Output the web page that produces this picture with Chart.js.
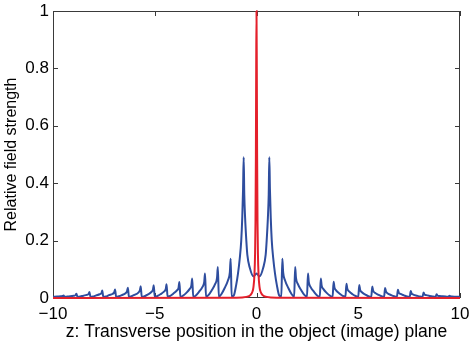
<!DOCTYPE html>
<html>
<head>
<meta charset="utf-8">
<script src="https://cdn.jsdelivr.net/npm/chart.js@4"></script>
<style>
  html, body { margin: 0; padding: 0; background: #fff; }
  #chart { display: block; }
</style>
</head>
<body>
<canvas id="chart" width="474" height="344"></canvas>
<script>
// Axis ticks
const xTicks = [-10, -5, 0, 5, 10];
const yTicks = [0, 0.2, 0.4, 0.6, 0.8, 1];

// Blue curve (periodic spikes)
const blueX = [
  -10, -9.80, -9.61, -9.52, -9.48, -9.43,
  -9.30, -9.15, -8.98, -8.89, -8.85, -8.80,
  -8.66, -8.51, -8.34, -8.25, -8.21, -8.16,
  -8.03, -7.88, -7.71, -7.62, -7.58, -7.53,
  -7.40, -7.25, -7.08, -6.99, -6.95, -6.90,
  -6.77, -6.62, -6.45, -6.36, -6.32, -6.27,
  -6.14, -5.99, -5.82, -5.73, -5.69, -5.64,
  -5.50, -5.35, -5.18, -5.09, -5.05, -5.00,
  -4.87, -4.72, -4.55, -4.46, -4.42, -4.37,
  -4.24, -4.09, -3.92, -3.83, -3.79, -3.74,
  -3.61, -3.46, -3.29, -3.20, -3.16, -3.11,
  -2.98, -2.83, -2.66, -2.57, -2.53, -2.48,
  -2.35, -2.20, -2.03, -1.94, -1.90, -1.85,
  -1.72, -1.57, -1.40, -1.31, -1.27, -1.22,
  -1.12, -1.00, -0.91, -0.82, -0.75, -0.70, -0.66, -0.63,
  -0.60, -0.56, -0.50, -0.45, -0.33, -0.15, 0,
  0.15, 0.33, 0.45, 0.50, 0.56, 0.60, 0.63,
  0.66, 0.70, 0.75, 0.82, 0.91, 1.00, 1.12, 1.22,
  1.27, 1.31, 1.40, 1.57, 1.72, 1.85,
  1.90, 1.94, 2.03, 2.20, 2.35, 2.48,
  2.53, 2.57, 2.66, 2.83, 2.98, 3.11,
  3.16, 3.20, 3.29, 3.46, 3.61, 3.74,
  3.79, 3.83, 3.92, 4.09, 4.24, 4.37,
  4.42, 4.46, 4.55, 4.72, 4.87, 5.00,
  5.05, 5.09, 5.18, 5.35, 5.50, 5.64,
  5.69, 5.73, 5.82, 5.99, 6.14, 6.27,
  6.32, 6.36, 6.45, 6.62, 6.77, 6.90,
  6.95, 6.99, 7.08, 7.25, 7.40, 7.53,
  7.58, 7.62, 7.71, 7.88, 8.03, 8.16,
  8.21, 8.25, 8.34, 8.51, 8.66, 8.80,
  8.85, 8.89, 8.98, 9.15, 9.30, 9.43,
  9.48, 9.52, 9.61, 9.80, 10
];
const blueY = [
  0.004, 0.005, 0.006, 0.007, 0.009, 0.004,
  0.005, 0.006, 0.008, 0.010, 0.015, 0.004,
  0.005, 0.008, 0.011, 0.014, 0.021, 0.004,
  0.005, 0.009, 0.013, 0.017, 0.026, 0.004,
  0.005, 0.010, 0.014, 0.020, 0.030, 0.004,
  0.006, 0.010, 0.016, 0.024, 0.036, 0.004,
  0.006, 0.011, 0.018, 0.027, 0.041, 0.004,
  0.006, 0.012, 0.020, 0.029, 0.044, 0.004,
  0.007, 0.013, 0.022, 0.031, 0.048, 0.004,
  0.007, 0.015, 0.026, 0.036, 0.056, 0.004,
  0.008, 0.017, 0.031, 0.044, 0.068, 0.004,
  0.009, 0.021, 0.038, 0.055, 0.085, 0.004,
  0.011, 0.027, 0.049, 0.070, 0.108, 0.004,
  0.014, 0.034, 0.062, 0.089, 0.137, 0.005,
  0.008, 0.045, 0.085, 0.140, 0.200, 0.280, 0.380, 0.490,
  0.360, 0.280, 0.200, 0.150, 0.105, 0.075, 0.085,
  0.075, 0.105, 0.150, 0.200, 0.280, 0.360, 0.490,
  0.380, 0.280, 0.200, 0.140, 0.085, 0.045, 0.008, 0.005,
  0.137, 0.089, 0.062, 0.034, 0.014, 0.004,
  0.108, 0.070, 0.049, 0.027, 0.011, 0.004,
  0.085, 0.055, 0.038, 0.021, 0.009, 0.004,
  0.068, 0.044, 0.031, 0.017, 0.008, 0.004,
  0.057, 0.037, 0.026, 0.015, 0.007, 0.004,
  0.050, 0.033, 0.023, 0.013, 0.007, 0.004,
  0.045, 0.029, 0.020, 0.012, 0.006, 0.004,
  0.040, 0.026, 0.018, 0.011, 0.006, 0.004,
  0.035, 0.023, 0.016, 0.010, 0.006, 0.004,
  0.029, 0.019, 0.014, 0.009, 0.005, 0.004,
  0.024, 0.016, 0.012, 0.008, 0.005, 0.004,
  0.019, 0.013, 0.010, 0.007, 0.005, 0.004,
  0.013, 0.009, 0.007, 0.006, 0.005, 0.004,
  0.008, 0.006, 0.005, 0.004, 0.004
];

// Red curve (single narrow peak at z = 0)
const redX = [-10, -1, -0.5, -0.3, -0.2, -0.15, -0.1, -0.07, -0.05, -0.03, -0.015, 0,
  0.015, 0.03, 0.05, 0.07, 0.1, 0.15, 0.2, 0.3, 0.5, 1, 10];
const redY = [0, 0.001, 0.004, 0.01, 0.022, 0.038, 0.083, 0.155, 0.265, 0.5, 0.8, 1,
  0.8, 0.5, 0.265, 0.155, 0.083, 0.038, 0.022, 0.01, 0.004, 0.001, 0];

const FONT = 'Liberation Sans, Arial, Helvetica, sans-serif';
const AXIS_COLOR = '#3a3a3a';

// Box around the plot with MATLAB-style inward ticks on all four sides
const frameTicks = {
  id: 'frameTicks',
  beforeDatasetsDraw(chart) {
    const { ctx, chartArea: a, scales: { x, y } } = chart;
    ctx.save();
    ctx.strokeStyle = AXIS_COLOR;
    ctx.lineWidth = 1;
    ctx.strokeRect(a.left + 0.5, a.top + 0.5, a.right - a.left - 1, a.bottom - a.top - 1);
    ctx.beginPath();
    x.ticks.forEach(t => {
      const px = Math.round(x.getPixelForValue(t.value)) + 0.5;
      ctx.moveTo(px, a.bottom); ctx.lineTo(px, a.bottom - 5);
      ctx.moveTo(px, a.top); ctx.lineTo(px, a.top + 5);
    });
    y.ticks.forEach(t => {
      const py = Math.round(y.getPixelForValue(t.value)) + 0.5;
      ctx.moveTo(a.left, py); ctx.lineTo(a.left + 5, py);
      ctx.moveTo(a.right, py); ctx.lineTo(a.right - 5, py);
    });
    ctx.stroke();
    ctx.restore();
  }
};

const ctx = document.getElementById('chart').getContext('2d');
new Chart(ctx, {
  type: 'line',
  data: {
    datasets: [
      {
        label: 'red',
        data: redX.map((v, i) => ({ x: v, y: redY[i] })),
        borderColor: '#e4202b',
        borderWidth: 2,
        pointRadius: 0,
        cubicInterpolationMode: 'monotone',
        clip: 4,
        order: 0,
      },
      {
        label: 'blue',
        data: blueX.map((v, i) => ({ x: v, y: blueY[i] })),
        borderColor: '#2e4d9e',
        borderWidth: 2,
        pointRadius: 0,
        cubicInterpolationMode: 'monotone',
        order: 1,
      },
    ],
  },
  options: {
    responsive: false,
    animation: false,
    events: [],
    layout: { padding: { left: 0, right: 14, top: 11, bottom: 0 } },
    plugins: { legend: { display: false }, tooltip: { enabled: false } },
    scales: {
      x: {
        type: 'linear',
        min: -10,
        max: 10,
        afterBuildTicks: (s) => { s.ticks = xTicks.map(v => ({ value: v })); },
        afterFit: (s) => { s.height = 46; s.paddingLeft = 0; s.paddingRight = 0; },
        grid: { display: false, drawTicks: false },
        border: { display: false },
        ticks: {
          color: '#000',
          padding: 6,
          maxRotation: 0,
          font: { family: FONT, size: 17 },
          callback: (v) => String(v).replace('-', '\u2212'),
        },
        title: {
          display: true,
          text: 'z: Transverse position in the object (image) plane',
          color: '#000',
          font: { family: FONT, size: 17.5 },
          padding: { top: 0, bottom: 1 },
        },
      },
      y: {
        type: 'linear',
        min: 0,
        max: 1,
        afterBuildTicks: (s) => { s.ticks = yTicks.map(v => ({ value: v })); },
        afterFit: (s) => { s.width = 53; s.paddingTop = 0; s.paddingBottom = 0; },
        grid: { display: false, drawTicks: false },
        border: { display: false },
        ticks: {
          color: '#000',
          padding: 4,
          font: { family: FONT, size: 17 },
          callback: (v) => String(v),
        },
        title: {
          display: true,
          text: 'Relative field strength',
          color: '#000',
          font: { family: FONT, size: 16 },
          padding: { top: 2, bottom: 0 },
        },
      },
    },
  },
  plugins: [frameTicks],
});
</script>
</body>
</html>
